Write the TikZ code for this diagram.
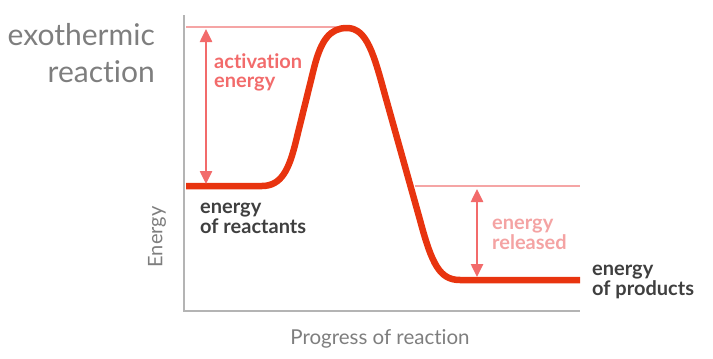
\documentclass[tikz,border=0pt]{standalone}
\usepackage{fontspec}
\setmainfont{Lato}[Ligatures={NoCommon,NoRare}]
\usetikzlibrary{arrows.meta}
\definecolor{curvered}{HTML}{E8340F}
\definecolor{arrowred}{HTML}{F26B6B}
\definecolor{levelpink}{HTML}{F5A5A5}
\definecolor{releasedpink}{HTML}{F4A3A3}
\definecolor{labeldark}{HTML}{3F3F3F}
\definecolor{titlegray}{HTML}{7E7E7E}
\definecolor{axisgray}{HTML}{B4B4B4}
\tikzset{
  axisline/.style={line width=2.5pt, axisgray},
  levelline/.style={line width=1.4pt, levelpink},
  gaparrow/.style={line width=2.5pt, arrowred, {Triangle[width=12pt,length=13pt]}-{Triangle[width=12pt,length=13pt]}},
  pathcurve/.style={line width=6.5pt, curvered, line join=round},
  smalllabel/.style={inner sep=0pt, anchor=north west, align=left, font=\bfseries\fontsize{20}{19.5}\selectfont},
}
\begin{document}
\begin{tikzpicture}[x=1pt, y=-1pt]
        \useasboundingbox (0,0) rectangle (713,359);
        %axes
        \coordinate (top) at (184,15);
        \coordinate (origin) at (184,311);
        \coordinate (right) at (580,311);
        \draw[axisline] (top) -- (origin) -- (right);
        %levels
        \coordinate (peakleft) at (186,27);
        \coordinate (peakright) at (347,27);
        \coordinate (reactleft) at (415,186);
        \coordinate (reactright) at (580,186);
        \draw[levelline] (peakleft) -- (peakright);
        \draw[levelline] (reactleft) -- (reactright);
        %reaction curve
        \draw[pathcurve] (186,186) -- (262,186)
              .. controls (282,186) and (289,168) .. (295,145) -- (314,68)
              .. controls (321,40) and (330,28) .. (347,28)
              .. controls (367,28) and (374,55) .. (385,95) -- (420,220)
              .. controls (432,265) and (440,280) .. (460,280) -- (580,280);
        %arrows
        \coordinate (actop) at (206,29);
        \coordinate (acbottom) at (206,184);
        \coordinate (reltop) at (477,189);
        \coordinate (relbottom) at (477,277);
        \draw[gaparrow] (actop) -- (acbottom);
        \draw[gaparrow] (reltop) -- (relbottom);
        %labels
        \node[smalllabel, text=arrowred] (activation) at (214,53) {activation\\energy};
        \node[smalllabel, text=releasedpink] (released) at (492,219) {energy\\released};
        \node[smalllabel, text=labeldark] (reactants) at (200,203) {energy\\of reactants};
        \node[smalllabel, text=labeldark] (products) at (592,265) {energy\\of products};
        \node[inner sep=0pt, anchor=north east, align=right, text=titlegray,
              font=\fontsize{30}{37}\selectfont] (title) at (155,23) {exothermic\\reaction};
        \node[inner sep=0pt, rotate=90, text=titlegray, font=\fontsize{20}{20}\selectfont] (energy) at (157,237) {Energy};
        \node[inner sep=0pt, text=titlegray, font=\fontsize{20.5}{20}\selectfont] (progress) at (380,339) {Progress of reaction};
\end{tikzpicture}
\end{document}
